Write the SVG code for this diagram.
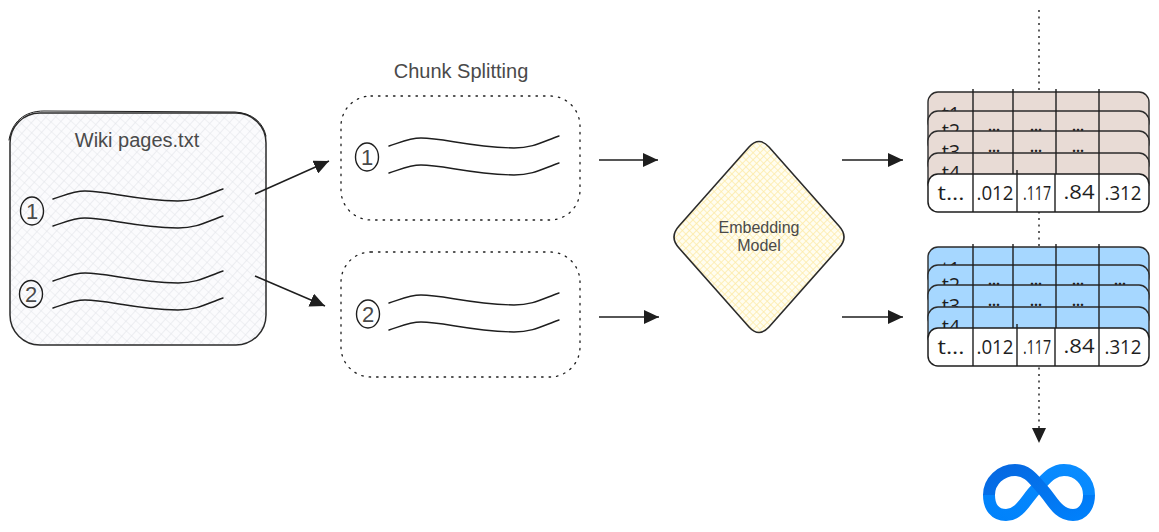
<svg xmlns="http://www.w3.org/2000/svg" width="1159" height="532" viewBox="0 0 1159 532">
<style>
.lbl{font-family:"Liberation Sans",Arial,sans-serif;fill:#4a4a4a;text-anchor:middle}
.hand{font-family:"Open Sans","DejaVu Sans",sans-serif;fill:#1e1e1e;text-anchor:middle;font-size:20px}
.dots{font-size:14px;font-weight:700}
.ln{fill:none;stroke:#1e1e1e;stroke-width:1.4;stroke-linecap:round}
.edge{fill:none;stroke:#1e1e1e;stroke-width:1.5}
.dash{fill:none;stroke:#1e1e1e;stroke-width:1.3;stroke-dasharray:1.5 6;stroke-linecap:round}
.dot{fill:none;stroke:#1e1e1e;stroke-width:1.4;stroke-dasharray:2 4.5}
.out{stroke:#2b2b2b;stroke-width:1.5}
.div{stroke:#1e1e1e;stroke-width:1.4}
.ell{fill:none;stroke:#1e1e1e;stroke-width:1.4}
.brown{fill:#e8dbd5;stroke:#2b2b2b;stroke-width:1.4}
.blue{fill:#a6d7ff;stroke:#2b2b2b;stroke-width:1.4}
.white{fill:#fff;stroke:#1e1e1e;stroke-width:1.5}
</style>
<defs>
<pattern id="gh" width="7" height="7" patternUnits="userSpaceOnUse" patternTransform="rotate(42)">
<rect width="7" height="7" fill="#fbfbfd"/>
<path d="M0 0H7M0 0V7" stroke="#e3e5ea" stroke-width="1.2"/>
</pattern>
<pattern id="yh" width="5" height="5" patternUnits="userSpaceOnUse" patternTransform="rotate(45)">
<rect width="5" height="5" fill="#fffdf0"/>
<path d="M0 0H5M0 0V5" stroke="#fdeba8" stroke-width="1.6"/>
</pattern>
<marker id="arr" markerUnits="userSpaceOnUse" markerWidth="16" markerHeight="14" refX="15" refY="7" orient="auto">
<path d="M0 0L15 7L0 14Z" fill="#1e1e1e"/>
</marker>
<linearGradient id="metaA" x1="0" y1="0" x2="1" y2="1">
<stop offset="0" stop-color="#0668e1"/><stop offset="1" stop-color="#0080fb"/>
</linearGradient>
<linearGradient id="metaB" x1="0" y1="1" x2="1" y2="0">
<stop offset="0" stop-color="#0082fb"/><stop offset="1" stop-color="#0a8cff"/>
</linearGradient>
<g id="wave"><path class="ln" d="M0 0C10-3 20-8 32-8C55-8 80 1 125 2C145 2 155-5 170-10"/></g>
</defs>

<g id="wiki-pages">
<rect x="10" y="113" width="256" height="232" rx="30" fill="url(#gh)" class="out"/>
<path class="ln" style="stroke-width:1" d="M9 140C12 122 24 111 44 111L235 112C252 113 263 122 266 136"/>
<text class="lbl" x="137" y="147" font-size="20">Wiki pages.txt</text>
<use href="#wave" x="53" y="199"/><use href="#wave" x="53" y="226"/>
<use href="#wave" x="53" y="281"/><use href="#wave" x="53" y="308"/>
<ellipse class="ell" cx="32" cy="211" rx="11.5" ry="14"/>
<text class="lbl" x="32" y="219" font-size="22">1</text>
<ellipse class="ell" cx="31" cy="294" rx="11.5" ry="13.5"/>
<text class="lbl" x="31" y="302" font-size="22">2</text>
</g>

<g id="chunk-title"><text class="lbl" x="461" y="78" font-size="20">Chunk Splitting</text></g>

<g id="chunk-1">
<rect class="dash" x="341" y="96" width="239" height="124" rx="30"/>
<use href="#wave" x="389" y="146"/><use href="#wave" x="389" y="173"/>
<ellipse class="ell" cx="367" cy="157" rx="11.5" ry="14"/>
<text class="lbl" x="367" y="165" font-size="22">1</text>
</g>

<g id="chunk-2">
<rect class="dash" x="341" y="252" width="239" height="125" rx="30"/>
<use href="#wave" x="389" y="303"/><use href="#wave" x="389" y="330"/>
<ellipse class="ell" cx="368" cy="314" rx="11.5" ry="14"/>
<text class="lbl" x="368" y="322" font-size="22">2</text>
</g>

<g id="embedding-model">
<path d="M749 147Q759 136 769 147L839 226Q849 237 839 248L769 327Q759 338 749 327L679 248Q669 237 679 226Z" fill="url(#yh)" stroke="#2b2b2b" stroke-width="1.6"/>
<text class="lbl" x="759" y="233" font-size="16">Embedding</text>
<text class="lbl" x="759" y="251" font-size="16">Model</text>
</g>

<g id="connectors">
<path class="dot" marker-end="url(#arr)" d="M1039 10V443"/>
<path class="edge" marker-end="url(#arr)" d="M255 194L329 161"/>
<path class="edge" marker-end="url(#arr)" d="M255 276L325 306"/>
<path class="edge" marker-end="url(#arr)" d="M599 160H658"/>
<path class="edge" marker-end="url(#arr)" d="M599 317H659"/>
<path class="edge" marker-end="url(#arr)" d="M842 160H903"/>
<path class="edge" marker-end="url(#arr)" d="M842 317H903"/>
</g>

<g id="table-brown">
<rect class="brown" x="928" y="92" width="221" height="40" rx="10"/>
<text class="hand" x="951" y="121">t1</text>
<rect class="brown" x="928" y="111" width="221" height="42" rx="10"/>
<text class="hand" x="951" y="138">t2</text>
<text class="hand dots" x="994" y="131">...</text><text class="hand dots" x="1036" y="131">...</text><text class="hand dots" x="1078" y="131">...</text>
<rect class="brown" x="928" y="131" width="221" height="43" rx="10"/>
<text class="hand" x="951" y="159">t3</text>
<text class="hand dots" x="994" y="152">...</text><text class="hand dots" x="1036" y="152">...</text><text class="hand dots" x="1078" y="152">...</text>
<rect class="brown" x="928" y="153" width="221" height="40" rx="10"/>
<text class="hand" x="951" y="180">t4</text>
<path class="div" d="M973 89V174M1013 89V174M1056 89V174M1099 89V174"/>
<rect class="white" x="928" y="174" width="221" height="38" rx="10"/>
<path class="div" d="M973 174V212M1017 170V212M1055 174V212M1099 174V212"/>
<text class="hand" x="951" y="200" textLength="27" lengthAdjust="spacingAndGlyphs">t...</text>
<text class="hand" x="995" y="200" textLength="37" lengthAdjust="spacingAndGlyphs">.012</text>
<text class="hand" x="1037" y="200" textLength="28" lengthAdjust="spacingAndGlyphs">.117</text>
<text class="hand" x="1079" y="199" textLength="31" lengthAdjust="spacingAndGlyphs">.84</text>
<text class="hand" x="1123" y="200" textLength="37" lengthAdjust="spacingAndGlyphs">.312</text>
</g>

<g id="table-blue">
<rect class="blue" x="928" y="247" width="221" height="40" rx="10"/>
<text class="hand" x="951" y="276">t1</text>
<rect class="blue" x="928" y="265" width="221" height="42" rx="10"/>
<text class="hand" x="951" y="292">t2</text>
<text class="hand dots" x="994" y="285">...</text><text class="hand dots" x="1036" y="285">...</text><text class="hand dots" x="1078" y="285">...</text><text class="hand dots" x="1120" y="285">...</text>
<rect class="blue" x="928" y="285" width="221" height="43" rx="10"/>
<text class="hand" x="951" y="313">t3</text>
<text class="hand dots" x="994" y="306">...</text><text class="hand dots" x="1036" y="306">...</text><text class="hand dots" x="1078" y="306">...</text>
<rect class="blue" x="928" y="307" width="221" height="40" rx="10"/>
<text class="hand" x="951" y="334">t4</text>
<path class="div" d="M973 244V328M1013 244V328M1056 244V328M1099 244V328"/>
<rect class="white" x="928" y="328" width="221" height="38" rx="10"/>
<path class="div" d="M973 328V366M1017 324V366M1055 328V366M1099 328V366"/>
<text class="hand" x="951" y="354" textLength="27" lengthAdjust="spacingAndGlyphs">t...</text>
<text class="hand" x="995" y="354" textLength="37" lengthAdjust="spacingAndGlyphs">.012</text>
<text class="hand" x="1037" y="354" textLength="28" lengthAdjust="spacingAndGlyphs">.117</text>
<text class="hand" x="1079" y="353" textLength="31" lengthAdjust="spacingAndGlyphs">.84</text>
<text class="hand" x="1123" y="354" textLength="37" lengthAdjust="spacingAndGlyphs">.312</text>
</g>

<g id="meta-logo" fill="none" stroke-width="12" stroke-linecap="butt">
<path stroke="url(#metaB)" d="M989 495C989 507 995 515 1006 515C1020 515 1026 499 1036 489C1046 479 1052 470 1064 470C1078 470 1089 481 1089 495"/>
<path stroke="url(#metaA)" d="M989 495C989 481 1001 470 1015 470C1028 470 1034 480 1044 491C1052 500 1058 515 1073 515C1083 515 1089 506 1089 495"/>
</g>
</svg>
